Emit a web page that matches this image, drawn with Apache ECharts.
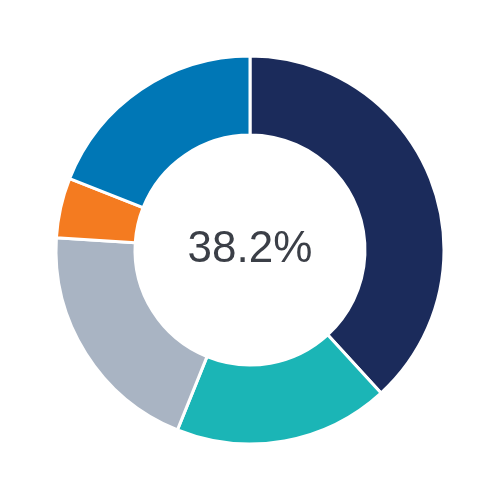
<!DOCTYPE html>
<html><head><meta charset="utf-8">
<script src="https://cdn.jsdelivr.net/npm/echarts@6/dist/echarts.min.js"></script>
<style>html,body{margin:0;padding:0;background:#fff}#c{width:500px;height:500px}</style>
</head><body><div id="c"></div>
<script>
const categories = ['A', 'B', 'C', 'D', 'E'];
const values = [38.2, 17.9, 19.9, 5.0, 19.0];
const colors = ['#1b2b5b', '#1bb5b6', '#a9b4c3', '#f47b20', '#0077b6'];
const centerLabel = '38.2%';

const chart = echarts.init(document.getElementById('c'));
chart.setOption({
  animation: false,
  title: {
    text: centerLabel, left: 'center', top: 'middle',
    textStyle: { fontFamily: 'Liberation Sans, Arial, sans-serif', fontSize: 44, fontWeight: 'normal', color: '#3b3f47' }
  },
  series: [{
    type: 'pie',
    center: ['50%', '50%'],
    radius: [115, 194],
    startAngle: 90,
    clockwise: true,
    label: { show: false },
    labelLine: { show: false },
    itemStyle: { borderColor: '#fff', borderWidth: 3 },
    data: categories.map((c, i) => ({ name: c, value: values[i], itemStyle: { color: colors[i] } }))
  }]
});
</script></body></html>
